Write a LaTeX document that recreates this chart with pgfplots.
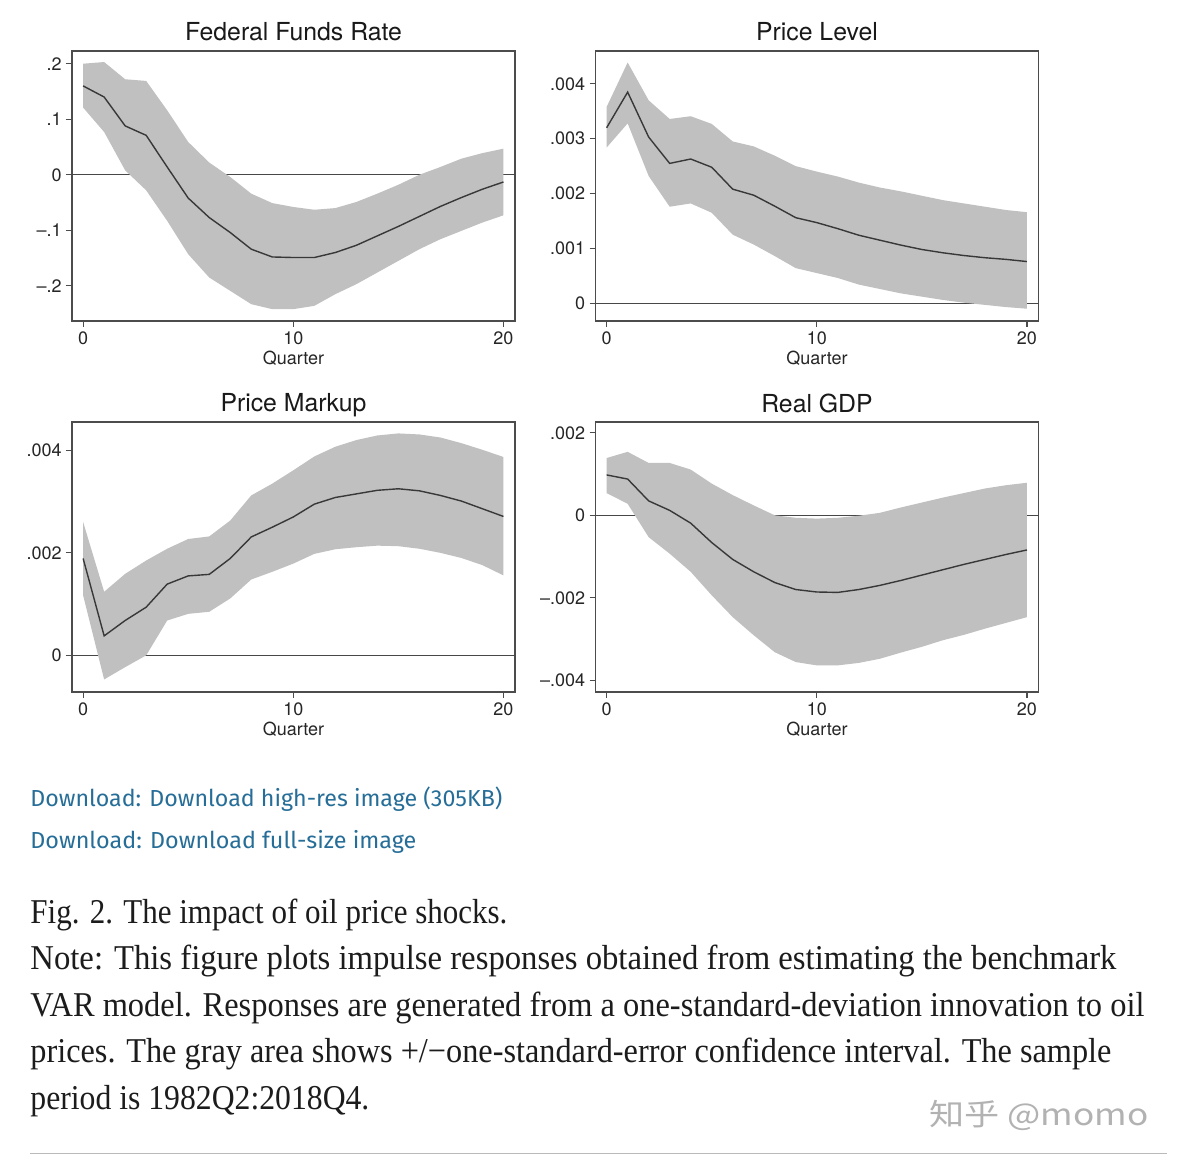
\documentclass[border=0pt]{standalone}
\usepackage{fontspec}
\setmainfont{TeX Gyre Heros}
\newfontfamily\capfont{Liberation Serif}
\newfontfamily\linkfont{Fira Sans}
\newfontfamily\cjk{Noto Sans CJK SC}
\usepackage{graphicx}
\usepackage{pgfplots}
\usepackage{pgfplotstable}
\pgfplotsset{compat=1.18}
\definecolor{band}{RGB}{192,192,192}
\definecolor{linkblue}{RGB}{38,110,152}
\definecolor{captext}{RGB}{28,28,28}

% mean responses
\pgfplotstableread{
q m
0 0.160
1 0.140
2 0.088
3 0.071
4 0.014
5 -0.042
6 -0.077
7 -0.104
8 -0.134
9 -0.148
10 -0.149
11 -0.149
12 -0.140
13 -0.127
14 -0.110
15 -0.093
16 -0.075
17 -0.057
18 -0.041
19 -0.026
20 -0.013
}\ffr

\pgfplotstableread{
q m
0 0.00320
1 0.00385
2 0.00303
3 0.00255
4 0.00263
5 0.00248
6 0.00208
7 0.00197
8 0.00177
9 0.00156
10 0.00147
11 0.00136
12 0.00124
13 0.00115
14 0.00106
15 0.00098
16 0.00092
17 0.00087
18 0.00083
19 0.00080
20 0.00076
}\plevel

\pgfplotstableread{
q m
0 0.00189
1 0.00038
2 0.00068
3 0.00094
4 0.00139
5 0.00155
6 0.00158
7 0.00189
8 0.00231
9 0.00250
10 0.00270
11 0.00295
12 0.00308
13 0.00315
14 0.00322
15 0.00325
16 0.00321
17 0.00312
18 0.00301
19 0.00286
20 0.00271
}\markup

\pgfplotstableread{
q m
0 0.00098
1 0.00088
2 0.00035
3 0.00012
4 -0.00019
5 -0.00066
6 -0.00107
7 -0.00137
8 -0.00163
9 -0.00180
10 -0.00186
11 -0.00187
12 -0.00180
13 -0.00170
14 -0.00158
15 -0.00145
16 -0.00132
17 -0.00119
18 -0.00107
19 -0.00095
20 -0.00084
}\gdp

\pgfplotsset{irf/.style={
  scale only axis, width=221.5pt, height=135pt,
  xmin=-0.53, xmax=20.55,
  xtick={0,10,20}, xticklabels={0,10,20},
  tick align=outside, xtick pos=left, ytick pos=left,
  major tick length=3pt,
  tick style={black!70, line width=0.6pt},
  axis line style={black!70, line width=0.75pt},
  tick label style={font=\fontsize{9}{10}\selectfont, text=black!85},
  xticklabel style={inner sep=2pt},
  yticklabel style={inner sep=2pt},
  scaled y ticks=false,
  xlabel={Quarter},
  xlabel style={font=\fontsize{9}{10}\selectfont, text=black!85, at={(axis description cs:0.5,0)}, anchor=base, yshift=-22pt, inner sep=0pt},
  title style={font=\fontsize{12.4}{14}\selectfont, text=black!90, at={(axis description cs:0.5,1)}, anchor=base, yshift=-1pt, inner sep=0pt},
  zero/.style={black!72, line width=0.65pt},
  mean/.style={black!78, line width=0.7pt},
  ci/.style={fill=band, draw=none},
}}

\begin{document}
\begin{tikzpicture}
\fill[white] (0,0) rectangle (589.5pt,-582.5pt);

\begin{axis}[irf, at={(36pt,-160.5pt)}, anchor=south west,
  title={Federal Funds Rate},
  ymin=-0.2633, ymax=0.2229,
  ytick={-0.2,-0.1,0,0.1,0.2}, yticklabels={–.2,–.1,0,.1,.2}]
  \addplot[zero] coordinates {(-0.53,0) (20.55,0)};
  \addplot[ci] coordinates {(0,0.200)(1,0.203)(2,0.172)(3,0.169)(4,0.116)(5,0.059)(6,0.022)(7,-0.004)(8,-0.034)(9,-0.051)(10,-0.058)(11,-0.063)(12,-0.060)(13,-0.049)(14,-0.034)(15,-0.018)(16,0.000)(17,0.014)(18,0.029)(19,0.039)(20,0.047)
    (20,-0.073)(19,-0.086)(18,-0.101)(17,-0.116)(16,-0.134)(15,-0.155)(14,-0.176)(13,-0.197)(12,-0.215)(11,-0.236)(10,-0.242)(9,-0.242)(8,-0.233)(7,-0.209)(6,-0.185)(5,-0.143)(4,-0.083)(3,-0.028)(2,0.008)(1,0.077)(0,0.121)};
  \addplot[mean] table[x=q, y=m] {\ffr};
\end{axis}

\begin{axis}[irf, at={(297.75pt,-160.5pt)}, anchor=south west,
  title={Price Level},
  ymin=-0.000324, ymax=0.00460,
  ytick={0,0.001,0.002,0.003,0.004}, yticklabels={0,.001,.002,.003,.004}]
  \addplot[zero] coordinates {(-0.53,0) (20.55,0)};
  \addplot[ci] coordinates {(0,0.00358)(1,0.00439)(2,0.00370)(3,0.00336)(4,0.00341)(5,0.00327)(6,0.00295)(7,0.00286)(8,0.00269)(9,0.00250)(10,0.00240)(11,0.00231)(12,0.00220)(13,0.00211)(14,0.00204)(15,0.00196)(16,0.00188)(17,0.00182)(18,0.00176)(19,0.00170)(20,0.00166)
    (20,-0.00010)(19,-0.00007)(18,-0.00003)(17,0.00001)(16,0.00006)(15,0.00012)(14,0.00018)(13,0.00026)(12,0.00034)(11,0.00046)(10,0.00055)(9,0.00064)(8,0.00086)(7,0.00107)(6,0.00125)(5,0.00165)(4,0.00182)(3,0.00176)(2,0.00232)(1,0.00328)(0,0.00284)};
  \addplot[mean] table[x=q, y=m] {\plevel};
\end{axis}

\begin{axis}[irf, at={(36pt,-346pt)}, anchor=south west,
  title={Price Markup},
  ymin=-0.000715, ymax=0.004553,
  ytick={0,0.002,0.004}, yticklabels={0,.002,.004}]
  \addplot[zero] coordinates {(-0.53,0) (20.55,0)};
  \addplot[ci] coordinates {(0,0.00260)(1,0.00124)(2,0.00159)(3,0.00185)(4,0.00208)(5,0.00227)(6,0.00232)(7,0.00263)(8,0.00312)(9,0.00335)(10,0.00361)(11,0.00388)(12,0.00407)(13,0.00420)(14,0.00429)(15,0.00433)(16,0.00431)(17,0.00425)(18,0.00414)(19,0.00401)(20,0.00387)
    (20,0.00156)(19,0.00176)(18,0.00190)(17,0.00200)(16,0.00208)(15,0.00213)(14,0.00214)(13,0.00211)(12,0.00207)(11,0.00198)(10,0.00179)(9,0.00163)(8,0.00148)(7,0.00111)(6,0.00085)(5,0.00081)(4,0.00068)(3,0.00000)(2,-0.00023)(1,-0.00047)(0,0.00117)};
  \addplot[mean] table[x=q, y=m] {\markup};
\end{axis}

\begin{axis}[irf, at={(297.75pt,-346pt)}, anchor=south west,
  title={Real GDP},
  ymin=-0.004286, ymax=0.002264,
  ytick={-0.004,-0.002,0,0.002}, yticklabels={–.004,–.002,0,.002}]
  \addplot[zero] coordinates {(-0.53,0) (20.55,0)};
  \addplot[ci] coordinates {(0,0.00139)(1,0.00154)(2,0.00127)(3,0.00127)(4,0.00111)(5,0.00077)(6,0.00049)(7,0.00024)(8,0.00000)(9,-0.00006)(10,-0.00008)(11,-0.00006)(12,-0.00001)(13,0.00006)(14,0.00019)(15,0.00031)(16,0.00043)(17,0.00054)(18,0.00065)(19,0.00073)(20,0.00079)
    (20,-0.00247)(19,-0.00261)(18,-0.00275)(17,-0.00290)(16,-0.00303)(15,-0.00319)(14,-0.00333)(13,-0.00348)(12,-0.00358)(11,-0.00364)(10,-0.00364)(9,-0.00356)(8,-0.00332)(7,-0.00291)(6,-0.00247)(5,-0.00194)(4,-0.00137)(3,-0.00093)(2,-0.00053)(1,0.00028)(0,0.00054)};
  \addplot[mean] table[x=q, y=m] {\gdp};
\end{axis}

% links
\node[anchor=base west, inner sep=0pt, text=linkblue] at (15pt,-403.35pt)
  {\resizebox{236pt}{\height}{\linkfont\fontsize{11.6}{13}\selectfont Download: Download high-res image (305KB)}};
\node[anchor=base west, inner sep=0pt, text=linkblue] at (15pt,-424.25pt)
  {\resizebox{193pt}{\height}{\linkfont\fontsize{11.6}{13}\selectfont Download: Download full-size image}};

% caption
\node[anchor=base west, inner sep=0pt, text=captext] at (15pt,-461.5pt)
  {\resizebox{238.5pt}{\height}{\capfont\fontsize{17.4}{20}\selectfont Fig. 2. The impact of oil price shocks.}};
\node[anchor=base west, inner sep=0pt, text=captext] at (15pt,-484.9pt)
  {\resizebox{543pt}{\height}{\capfont\fontsize{17.4}{20}\selectfont Note: This figure plots impulse responses obtained from estimating the benchmark}};
\node[anchor=base west, inner sep=0pt, text=captext] at (15pt,-508.2pt)
  {\resizebox{557pt}{\height}{\capfont\fontsize{17.4}{20}\selectfont VAR model. Responses are generated from a one-standard-deviation innovation to oil}};
\node[anchor=base west, inner sep=0pt, text=captext] at (15pt,-531.4pt)
  {\resizebox{540.5pt}{\height}{\capfont\fontsize{17.4}{20}\selectfont prices. The gray area shows +/−one-standard-error confidence interval. The sample}};
\node[anchor=base west, inner sep=0pt, text=captext] at (15pt,-554.7pt)
  {\resizebox{169.5pt}{\height}{\capfont\fontsize{17.4}{20}\selectfont period is 1982Q2:2018Q4.}};

% watermark
\node[anchor=base west, inner sep=0pt, text=black!30] at (464.5pt,-562.5pt)
  {\resizebox{109.5pt}{\height}{\cjk\fontsize{15}{17}\selectfont 知乎 @momo}};

\draw[black!27, line width=0.7pt] (15pt,-576.6pt) -- (583.5pt,-576.6pt);

\pgfresetboundingbox
\useasboundingbox (0,0) rectangle (589.5pt,-582.5pt);
\end{tikzpicture}
\end{document}
